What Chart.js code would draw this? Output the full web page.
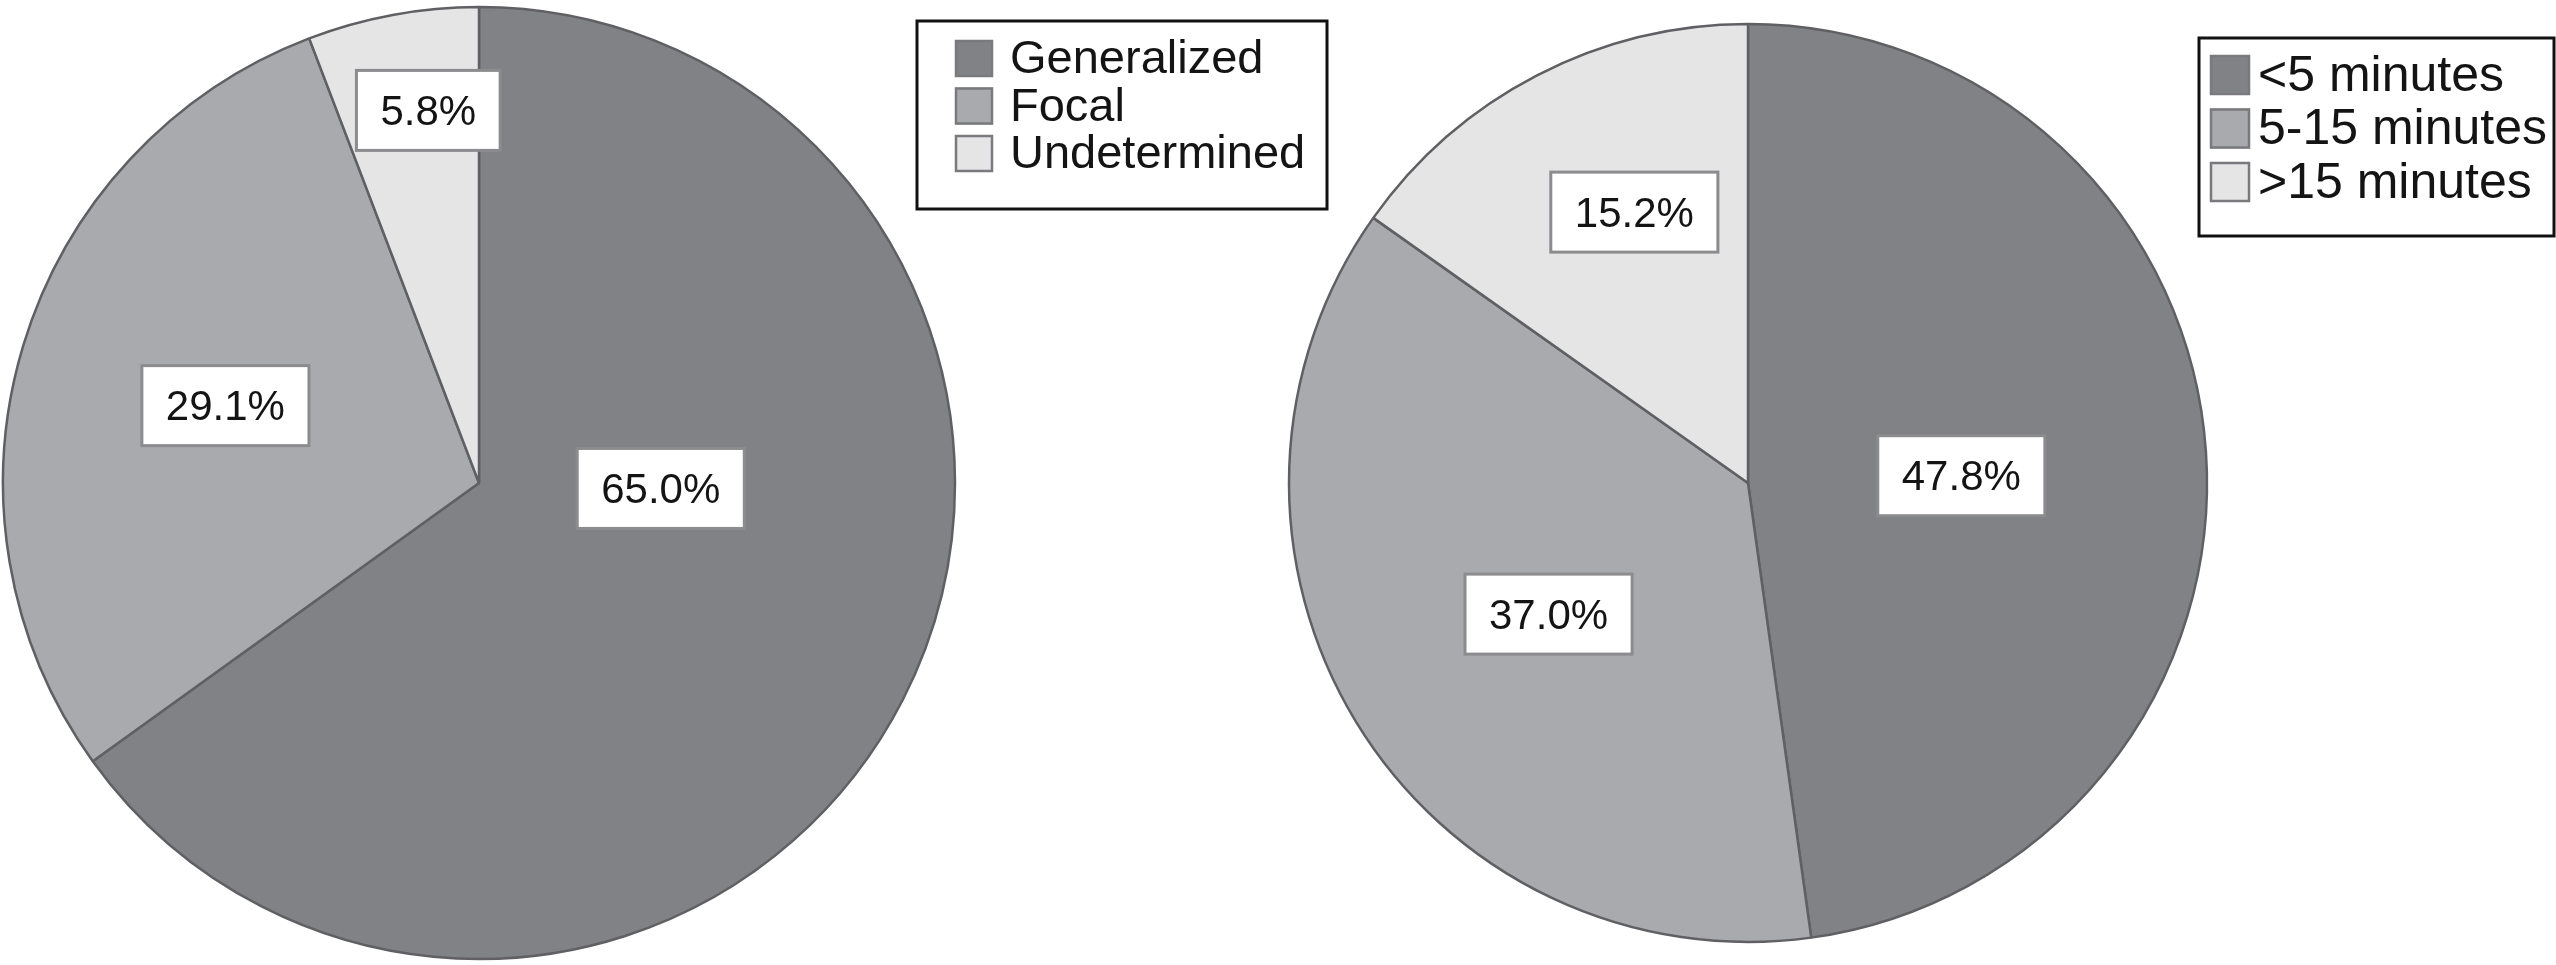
<!DOCTYPE html>
<html><head><meta charset="utf-8">
<script src="https://cdn.jsdelivr.net/npm/chart.js@4/dist/chart.umd.min.js"></script>
<style>
html,body{margin:0;padding:0;background:#fff;width:2556px;height:965px;overflow:hidden}
canvas{position:absolute;top:0}
#c1{left:0}
#c2{left:1270px}
</style></head><body>
<canvas id="c1" width="1400" height="965"></canvas>
<canvas id="c2" width="1286" height="965"></canvas>
<script>
// ---- data ----
const typeLabels = ['Generalized', 'Focal', 'Undetermined'];
const typeValues = [65.0, 29.1, 5.8];
const durationLabels = ['<5 minutes', '5-15 minutes', '>15 minutes'];
const durationValues = [47.8, 37.0, 15.2];

// ---- styles ----
const sliceColors = ['#818286', '#a9aaad', '#e5e5e6'];
const sliceBorder = '#606064';
const FONT = '"Liberation Sans", Arial, Helvetica, sans-serif';

function boxLabelPlugin(place) {
  return {
    id: 'boxLabels',
    afterDatasetsDraw(chart) {
      const ctx = chart.ctx;
      const meta = chart.getDatasetMeta(0);
      const data = chart.data.datasets[0].data;
      ctx.save();
      ctx.font = '42px ' + FONT;
      meta.data.forEach((arc, i) => {
        const p = arc.getProps(['x', 'y', 'startAngle', 'endAngle', 'outerRadius'], true);
        const mid = (p.startAngle + p.endAngle) / 2 + place[i].shift * Math.PI / 180;
        const cx = p.x + Math.cos(mid) * p.outerRadius * place[i].frac;
        const cy = p.y + Math.sin(mid) * p.outerRadius * place[i].frac;
        const txt = data[i].toFixed(1) + '%';
        const tw = ctx.measureText(txt).width;
        const w = tw + 48, h = 80;
        ctx.fillStyle = '#ffffff';
        ctx.fillRect(cx - w / 2, cy - h / 2, w, h);
        ctx.lineWidth = 3;
        ctx.strokeStyle = '#8c8c8e';
        ctx.strokeRect(cx - w / 2, cy - h / 2, w, h);
        ctx.fillStyle = '#141414';
        ctx.textAlign = 'center';
        ctx.textBaseline = 'middle';
        ctx.fillText(txt, cx, cy + 3);
      });
      ctx.restore();
    }
  };
}

function boxLegendPlugin(lg) {
  return {
    id: 'boxLegend',
    afterDraw(chart) {
      const ctx = chart.ctx;
      const labels = chart.data.labels;
      const colors = chart.data.datasets[0].backgroundColor;
      ctx.save();
      ctx.lineWidth = 3;
      ctx.strokeStyle = '#111111';
      ctx.strokeRect(lg.left, lg.top, lg.right - lg.left, lg.bottom - lg.top);
      ctx.font = lg.fontSize + 'px ' + FONT;
      ctx.textBaseline = 'middle';
      ctx.textAlign = 'left';
      labels.forEach((lab, i) => {
        const sy = lg.firstRow + i * lg.pitch;
        ctx.fillStyle = colors[i];
        ctx.fillRect(lg.swX, sy, lg.swW, lg.swH);
        ctx.lineWidth = 2.5;
        ctx.strokeStyle = '#7a7a7e';
        ctx.strokeRect(lg.swX + 1, sy + 1, lg.swW - 2, lg.swH - 2);
        ctx.fillStyle = '#141414';
        ctx.fillText(lab, lg.textX, sy + lg.swH / 2 + 2);
      });
      ctx.restore();
    }
  };
}

function makePie(id, labels, values, opts) {
  return new Chart(document.getElementById(id), {
    type: 'pie',
    data: {
      labels: labels,
      datasets: [{
        data: values,
        backgroundColor: sliceColors,
        borderColor: sliceBorder,
        borderWidth: 2.5,
        hoverOffset: 0,
        offset: 0,
        radius: opts.radius
      }]
    },
    options: {
      responsive: false,
      animation: false,
      devicePixelRatio: 1,
      rotation: 0,
      layout: { padding: opts.padding },
      plugins: { legend: { display: false }, tooltip: { enabled: false } },
      events: []
    },
    plugins: [boxLabelPlugin(opts.place), boxLegendPlugin(opts.legend)]
  });
}

makePie('c1', typeLabels, typeValues, {
  radius: 476,
  padding: { left: 0, right: 442, top: 1, bottom: 0 },
  place: [{ frac: 0.382, shift: -25.4 }, { frac: 0.557, shift: 0.3 }, { frac: 0.79, shift: 2.7 }],
  legend: { left: 917, top: 21, right: 1327, bottom: 209, swX: 955, swW: 38, swH: 37, firstRow: 40, pitch: 47.5, textX: 1010, fontSize: 47 }
});

makePie('c2', durationLabels, durationValues, {
  radius: 459,
  padding: { left: 0, right: 330, top: 1, bottom: 0 },
  place: [{ frac: 0.465, shift: 2 }, { frac: 0.52, shift: -2 }, { frac: 0.64, shift: 4.6 }],
  legend: { left: 929, top: 38, right: 1284, bottom: 236, swX: 940, swW: 40, swH: 40, firstRow: 55, pitch: 53.5, textX: 988, fontSize: 50 }
});
</script>
</body></html>
